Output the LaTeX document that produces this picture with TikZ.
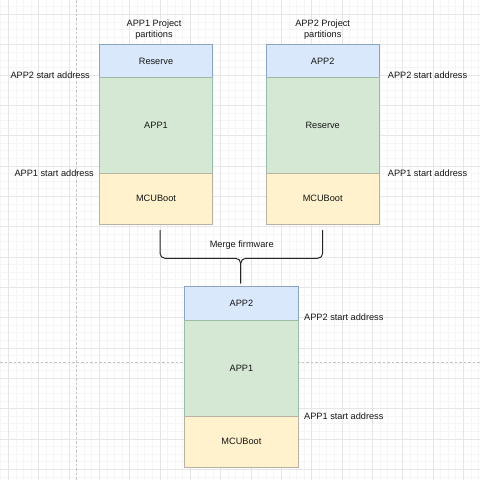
\documentclass[tikz,border=0pt]{standalone}
\usepackage{fontspec}
\setmainfont{Liberation Sans}
\definecolor{gridminor}{HTML}{F5F5F5}
\definecolor{gridmajor}{HTML}{E6E6E6}
\definecolor{pageline}{HTML}{C4C4C4}
\definecolor{bluefill}{HTML}{DAE8FC}
\definecolor{bluestroke}{HTML}{8AA4C8}
\definecolor{greenfill}{HTML}{D5E8D4}
\definecolor{greenstroke}{HTML}{9CBCA8}
\definecolor{yellowfill}{HTML}{FFF2CC}
\definecolor{yellowstroke}{HTML}{B8B2A4}
\definecolor{txt}{HTML}{161616}
\tikzset{
  part/.style={draw, line width=0.8pt, minimum width=113.5pt, inner sep=0pt, text=txt, font=\fontsize{9.2}{10}\selectfont},
  bluepart/.style={part, fill=bluefill, draw=bluestroke},
  greenpart/.style={part, fill=greenfill, draw=greenstroke},
  yellowpart/.style={part, fill=yellowfill, draw=yellowstroke},
  lbl/.style={text=txt, font=\fontsize{9.2}{10.5}\selectfont, inner sep=0pt},
  brace/.style={draw=black!85, line width=1pt, rounded corners=5pt},
  minorline/.style={draw=gridminor, line width=0.6pt},
  majorline/.style={draw=gridmajor, line width=0.8pt},
  pagebreak/.style={draw=pageline, line width=0.8pt, dash pattern=on 2.5pt off 2pt}
}
\begin{document}
\begin{tikzpicture}[x=1pt,y=-1pt]
\useasboundingbox (0,0) rectangle (480,480);
\fill[white] (0,0) rectangle (480,480);
% grid
\foreach \i in {-2,...,64} {
  \draw[minorline] ({8.3+7.583*\i},0) -- ({8.3+7.583*\i},480);
  \draw[minorline] (0,{14.3+7.583*\i}) -- (480,{14.3+7.583*\i});
}
\foreach \i in {-1,...,16} {
  \draw[majorline] ({8.3+30.33*\i},0) -- ({8.3+30.33*\i},480);
  \draw[majorline] (0,{14.3+30.33*\i}) -- (480,{14.3+30.33*\i});
}
\draw[pagebreak] (76.7,0) -- (76.7,480);
\draw[pagebreak] (0,362.3) -- (480,362.3);

% APP1 project
\node[bluepart, minimum height=33.4pt] (r1) at (156,61) {Reserve};
\node[greenpart, minimum height=95.6pt] (a1) at (156,125.5) {APP1};
\node[yellowpart, minimum height=51pt] (m1) at (156,198.8) {MCUBoot};
\node[lbl, align=center] (t1) at (154,29.5) {APP1 Project\\partitions};
\node[lbl, anchor=east] (l1a) at (90,75) {APP2 start address};
\node[lbl, anchor=east] (l1b) at (94,173) {APP1 start address};

% APP2 project
\node[bluepart, minimum height=33.4pt] (r2) at (322.7,61) {APP2};
\node[greenpart, minimum height=95.6pt] (a2) at (322.7,125.5) {Reserve};
\node[yellowpart, minimum height=51pt] (m2) at (322.7,198.8) {MCUBoot};
\node[lbl, align=center] (t2) at (322.7,29.5) {APP2 Project\\partitions};
\node[lbl, anchor=west] (l2a) at (387.7,75) {APP2 start address};
\node[lbl, anchor=west] (l2b) at (387.7,173) {APP1 start address};

% merged
\node[bluepart, minimum height=33.3pt, minimum width=114.7pt] (r3) at (241.4,303.3) {APP2};
\node[greenpart, minimum height=96pt, minimum width=114.7pt] (a3) at (241.4,368) {APP1};
\node[yellowpart, minimum height=51.3pt, minimum width=114.7pt] (m3) at (241.4,441.7) {MCUBoot};
\node[lbl, anchor=west] (l3a) at (304,317.3) {APP2 start address};
\node[lbl, anchor=west] (l3b) at (304,416) {APP1 start address};

% brace
\coordinate (bl) at (160,230);
\coordinate (br) at (322.7,230);
\coordinate (bm) at (240.7,258.3);
\coordinate (bt) at (240.7,283.3);
\draw[brace] (bl) -- (bl |- bm) -- (bm) -- (bt);
\draw[brace] (br) -- (br |- bm) -- (bm) -- (bt);
\node[lbl] (mf) at (241.7,245.3) {Merge firmware};
\end{tikzpicture}
\end{document}
